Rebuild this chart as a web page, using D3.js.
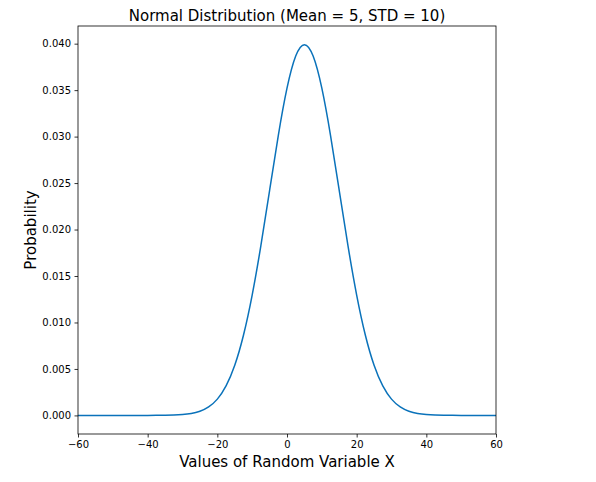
<!DOCTYPE html>
<html>
<head>
<meta charset="utf-8">
<script src="https://cdn.jsdelivr.net/npm/d3@7"></script>
<style>
  body { margin: 0; background: #fff; }
  text { font-family: "DejaVu Sans", sans-serif; }
</style>
</head>
<body>
<div id="chart"></div>
<script>
// values
var xValues = [-60, -57.5, -55, -52.5, -50, -47.5, -45, -42.5, -40, -37.5, -35, -32.5, -30, -27.5, -25, -22.5, -20, -17.5, -15, -12.5, -10, -7.5, -5, -2.5,
  0, 2.5, 5, 7.5, 10, 12.5, 15, 17.5, 20, 22.5, 25, 27.5, 30, 32.5, 35, 37.5, 40, 42.5, 45, 47.5, 50, 52.5, 55, 57.5, 60];
var probValues = [0, 0, 0, 0, 0, 0,
  0.0000001, 0.0000005, 0.0000016, 0.0000048, 0.0000134, 0.0000353, 0.0000873, 0.000203, 0.000443, 0.000909,
  0.001753, 0.003174, 0.005399, 0.008628, 0.012952, 0.018265, 0.024197, 0.030114, 0.035207, 0.038667,
  0.039894,
  0.038667, 0.035207, 0.030114, 0.024197, 0.018265, 0.012952, 0.008628, 0.005399, 0.003174, 0.001753,
  0.000909, 0.000443, 0.000203, 0.0000873, 0.0000353, 0.0000134, 0.0000048, 0.0000016, 0.0000005, 0.0000001,
  0, 0];
var xTicks = [-60, -40, -20, 0, 20, 40, 60];
var yTicks = [0, 0.005, 0.01, 0.015, 0.02, 0.025, 0.03, 0.035, 0.04];

var svgWidth = 596;
var svgHeight = 482;
var margin = { top: 26, right: 100, bottom: 48, left: 78 };
var width = svgWidth - margin.left - margin.right;
var height = svgHeight - margin.top - margin.bottom;

var svg = d3.select("#chart")
  .append("svg")
  .attr("width", svgWidth)
  .attr("height", svgHeight);

var chartGroup = svg.append("g")
  .attr("transform", `translate(${margin.left}, ${margin.top})`);

var data = xValues.map((x, i) => ({ x: x, y: probValues[i] }));

var xScale = d3.scaleLinear().domain([-60, 60]).range([0, width]);
var yScale = d3.scaleLinear().domain([-0.002, 0.0419]).range([height, 0]);

// line
var line = d3.line()
  .x(d => xScale(d.x))
  .y(d => yScale(d.y))
  .curve(d3.curveNatural);

svg.append("clipPath").attr("id", "clip")
  .append("rect").attr("width", width).attr("height", height);

chartGroup.append("g")
  .attr("clip-path", "url(#clip)")
  .append("path")
  .datum(data)
  .attr("fill", "none")
  .attr("stroke", "#0a72ba")
  .attr("stroke-width", 1.5)
  .attr("d", line);

// axes
var bottomAxis = d3.axisBottom(xScale).tickValues(xTicks).tickSize(3.5).tickPadding(3.5);
var leftAxis = d3.axisLeft(yScale).tickValues(yTicks).tickFormat(d3.format(".3f")).tickSize(3.5).tickPadding(3.5);

var xAxis = chartGroup.append("g")
  .attr("transform", `translate(0, ${height})`)
  .call(bottomAxis);
var yAxis = chartGroup.append("g").call(leftAxis);

[xAxis, yAxis].forEach(function (ax) {
  ax.select(".domain").remove();
  ax.selectAll("text").attr("fill", "#000").style("font-size", "10px");
  ax.selectAll("line").attr("stroke", "#000").attr("stroke-width", 0.8);
});

// frame
chartGroup.append("rect")
  .attr("width", width)
  .attr("height", height)
  .attr("fill", "none")
  .attr("stroke", "#000")
  .attr("stroke-width", 0.8);

// labels
svg.append("text")
  .attr("x", margin.left + width / 2)
  .attr("y", 21)
  .attr("text-anchor", "middle")
  .style("font-size", "15px")
  .text("Normal Distribution (Mean = 5, STD = 10)");

svg.append("text")
  .attr("x", margin.left + width / 2)
  .attr("y", 467)
  .attr("text-anchor", "middle")
  .style("font-size", "15px")
  .text("Values of Random Variable X");

svg.append("text")
  .attr("transform", `translate(36, ${margin.top + height / 2}) rotate(-90)`)
  .attr("text-anchor", "middle")
  .style("font-size", "15px")
  .text("Probability");
</script>
</body>
</html>
